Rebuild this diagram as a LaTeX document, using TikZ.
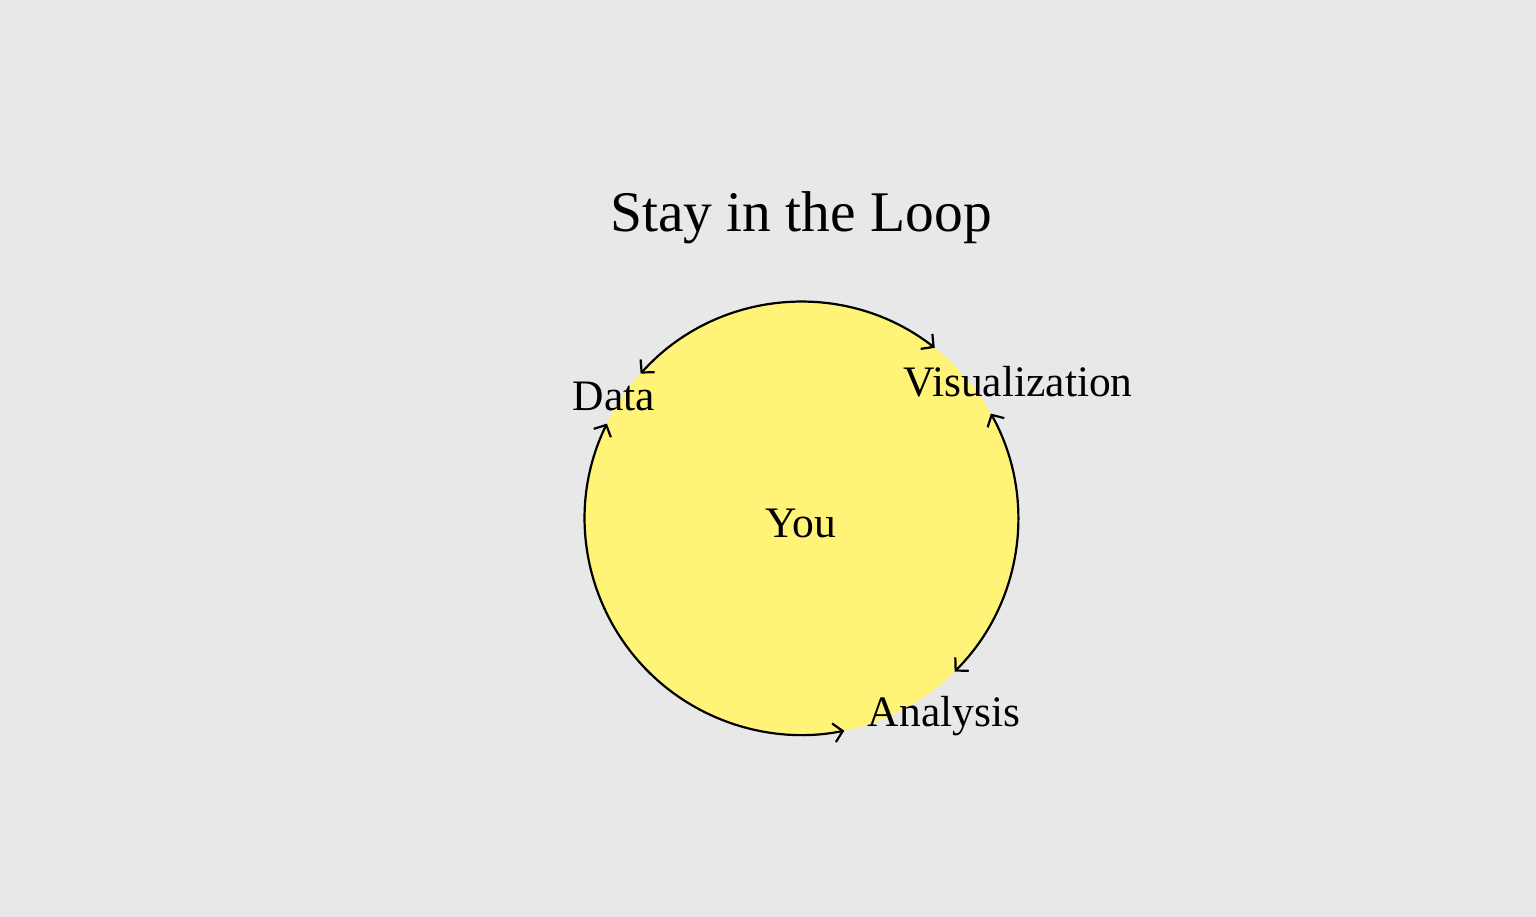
\documentclass[tikz,border=0pt]{standalone}
\usepackage{fontspec}
\setmainfont{Liberation Serif}
\usetikzlibrary{arrows.meta,calc}
\definecolor{bgc}{HTML}{E8E8E8}
\definecolor{sun}{HTML}{FFF477}
\begin{document}
\begin{tikzpicture}[x=1pt,y=1pt,
  label/.style={font=\fontsize{43.5}{50}\selectfont, text=black, inner sep=0pt, anchor=base},
  titletext/.style={font=\fontsize{57.5}{66}\selectfont, text=black, inner sep=0pt, anchor=base},
  looparc/.style={line width=2.2pt, {Straight Barb[length=9pt,width=19pt]}-{Straight Barb[length=9pt,width=19pt]}}]
\fill[bgc] (0,0) rectangle (1536,917);
\useasboundingbox (0,0) rectangle (1536,917);
\coordinate (c) at (801.5,398.5);
\def\R{216.5}
% yellow disc
\fill[sun] (c) circle[radius=\R];
% arcs
\draw[looparc] ($(c)+(52:\R)$) coordinate (a1) arc[start angle=52,end angle=138,radius=\R] coordinate (a2);
\draw[looparc] ($(c)+(154:\R)$) coordinate (b1) arc[start angle=154,end angle=281.4,radius=\R] coordinate (b2);
\draw[looparc] ($(c)+(315:\R)$) coordinate (d1) arc[start angle=315,end angle=389,radius=\R] coordinate (d2);
% texts
\node[titletext] (title) at (801,685) {Stay in the Loop};
\node[label] (data) at (614,506) {Data};
\node[label] (vis) at (1018,520) {Visualization};
\node[label] (ana) at (944,190) {Analysis};
\node[label] (you) at (801,379) {You};
\end{tikzpicture}
\end{document}
